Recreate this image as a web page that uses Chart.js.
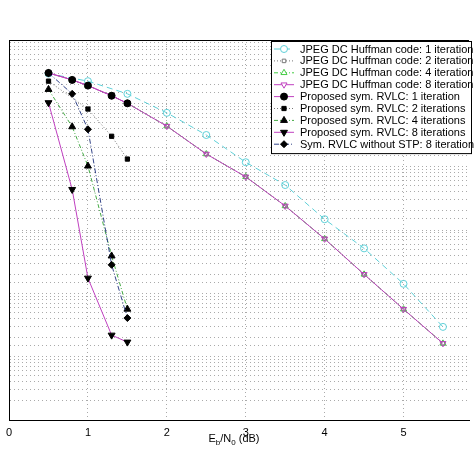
<!DOCTYPE html>
<html>
<head>
<script src="https://cdn.jsdelivr.net/npm/chart.js@4"></script>
<style>
  html, body { margin: 0; padding: 0; background: #fff; }
  #wrap { width: 474px; height: 474px; }
</style>
</head>
<body>
<div id="wrap"><canvas id="myChart" width="474" height="474"></canvas></div>
<script>
// Eb/N0 (dB) and log10(BER)
const ebnoLong = [0.5, 1.0, 1.5, 2.0, 2.5, 3.0, 3.5, 4.0, 4.5, 5.0, 5.5];
const jpeg1 = [-0.53, -0.65, -0.85, -1.15, -1.50, -1.93, -2.29, -2.83, -3.29, -3.85, -4.53];
const ebnoJ8 = [0.5, 0.8, 1.0, 1.3, 1.5, 2.0, 2.5, 3.0, 3.5, 4.0, 4.5, 5.0, 5.5];
const jpeg8 = [-0.52, -0.63, -0.72, -0.88, -1.0, -1.36, -1.80, -2.16, -2.62, -3.14, -3.70, -4.25, -4.79];
const ebnoShort = [0.5, 0.8, 1.0, 1.3, 1.5];
const rvlc1 = [-0.52, -0.63, -0.72, -0.88, -1.0];
const rvlc4 = [-0.78, -1.37, -1.99, -3.41, -4.25];
const rvlc8 = [-0.99, -2.36, -3.76, -4.66, -4.77];
const noStp8 = [-0.52, -0.85, -1.41, -3.55, -4.39];
const ebnoR2 = [0.5, 1.0, 1.3, 1.5];
const rvlc2 = [-0.65, -1.09, -1.52, -1.88];
const xTicks = [0, 1, 2, 3, 4, 5];

function pts(xs, ys) {
  return xs.map(function (x, i) { return { x: x, y: Math.pow(10, ys[i]) }; });
}

const series = [
  { label: 'JPEG DC Huffman code: 1 iteration', data: pts(ebnoLong, jpeg1), color: '#5fd0d8', style: 'circle', fill: false, dash: [6, 4], size: 3.5 },
  { label: 'JPEG DC Huffman code: 2 iteration', data: pts(ebnoJ8, jpeg8), color: '#777777', style: 'rect', fill: false, dash: [1, 2], size: 2.5 },
  { label: 'JPEG DC Huffman code: 4 iteration', data: pts(ebnoJ8, jpeg8), color: '#44cc44', style: 'triangle', fill: false, dash: [4, 2, 1, 2], size: 3.5 },
  { label: 'JPEG DC Huffman code: 8 iteration', data: pts(ebnoJ8, jpeg8), color: '#c040c0', style: 'triangle', rot: 180, fill: false, dash: [], size: 3.5 },
  { label: 'Proposed sym. RVLC: 1 iteration', data: pts(ebnoShort, rvlc1), color: '#000', style: 'circle', fill: true, dash: [], size: 3.5, line: '#c040c0' },
  { label: 'Proposed sym. RVLC: 2 iterations', data: pts(ebnoR2, rvlc2), color: '#000', style: 'rect', fill: true, dash: [1, 2], size: 3, line: '#777' },
  { label: 'Proposed sym. RVLC: 4 iterations', data: pts(ebnoShort, rvlc4), color: '#000', style: 'triangle', fill: true, dash: [4, 2, 1, 2], size: 4, line: '#44aa44' },
  { label: 'Proposed sym. RVLC: 8 iterations', data: pts(ebnoShort, rvlc8), color: '#000', style: 'triangle', rot: 180, fill: true, dash: [], size: 4, line: '#c040c0' },
  { label: 'Sym. RVLC without STP: 8 iteration', data: pts(ebnoShort, noStp8), color: '#000', style: 'rectRot', fill: true, dash: [5, 2, 1, 2], size: 3.5, line: '#334488' }
];

const boxLegend = {
  id: 'boxLegend',
  afterDraw: function (chart) {
    const c = chart.ctx;
    const a = chart.chartArea;
    const x0 = 271, y0 = 41, rowH = 11.9;
    c.save();
    // frame
    c.strokeStyle = '#000';
    c.lineWidth = 1;
    c.beginPath(); c.moveTo(a.left, a.top + 0.5); c.lineTo(a.right, a.top + 0.5); c.stroke();
    c.fillStyle = '#fff';
    c.fillRect(x0, y0, a.right - x0 + 2, rowH * 9 + 5);
    c.strokeRect(x0 + 0.5, y0 + 0.5, a.right - x0 + 2, rowH * 9 + 5);
    c.font = '11px "Liberation Sans", Arial, sans-serif';
    c.textBaseline = 'middle';
    series.forEach(function (s, i) {
      const y = y0 + 8 + i * rowH;
      c.strokeStyle = s.line || s.color;
      c.setLineDash(s.dash);
      c.beginPath(); c.moveTo(x0 + 3, y); c.lineTo(x0 + 23, y); c.stroke();
      c.setLineDash([]);
      c.fillStyle = s.fill ? s.color : '#fff';
      c.strokeStyle = s.color;
      Chart.helpers.drawPoint(c, { pointStyle: s.style, radius: s.size, rotation: s.rot || 0, borderWidth: 1 }, x0 + 13, y);
      c.fillStyle = '#000';
      c.fillText(s.label, x0 + 29, y + 0.5);
    });
    // x title with subscripts
    const tx = 234, ty = 442;
    const big = '11px "Liberation Sans", Arial, sans-serif';
    const small = '8px "Liberation Sans", Arial, sans-serif';
    c.textBaseline = 'alphabetic';
    const parts = [['E', 0], ['b', 1], ['/N', 0], ['0', 1], [' (dB)', 0]];
    let w = 0;
    parts.forEach(function (p) { c.font = p[1] ? small : big; w += c.measureText(p[0]).width; });
    let cx = tx - w / 2;
    parts.forEach(function (p) {
      c.font = p[1] ? small : big;
      c.fillText(p[0], cx, ty + (p[1] ? 3 : 0));
      cx += c.measureText(p[0]).width;
    });
    c.restore();
  }
};

const ctx = document.getElementById('myChart').getContext('2d');
const chart = new Chart(ctx, {
  type: 'line',
  data: {
    datasets: series.map(function (s) {
      return {
        label: s.label,
        data: s.data,
        borderColor: s.line || s.color,
        borderWidth: 1,
        borderDash: s.dash,
        pointStyle: s.style,
        pointRotation: s.rot || 0,
        pointRadius: s.size,
        pointBorderColor: s.color,
        pointBackgroundColor: s.fill ? s.color : 'rgba(0,0,0,0)',
        tension: 0
      };
    }).reverse()
  },
  options: {
    responsive: false,
    animation: false,
    layout: { padding: { left: 5, top: 40, right: 0, bottom: 0 } },
    plugins: { legend: { display: false }, tooltip: { enabled: false } },
    scales: {
      x: {
        type: 'linear', min: 0, max: 5.83,
        afterBuildTicks: function (ax) { ax.ticks = xTicks.map(function (v) { return { value: v }; }); },
        afterFit: function (ax) { ax.height = 54; },
        grid: { color: '#aaa', drawTicks: false },
        border: { color: '#000', dash: [1, 3] },
        ticks: { color: '#000', padding: 6, font: { size: 11, family: 'Liberation Sans' } }
      },
      y: {
        type: 'logarithmic', min: 1e-6, max: 1,
        afterFit: function (ax) { ax.width = 0; },
        ticks: { display: false },
        grid: { color: '#aaa', drawTicks: false },
        border: { color: '#000', dash: [1, 3] }
      }
    }
  },
  plugins: [boxLegend]
});
</script>
</body>
</html>
